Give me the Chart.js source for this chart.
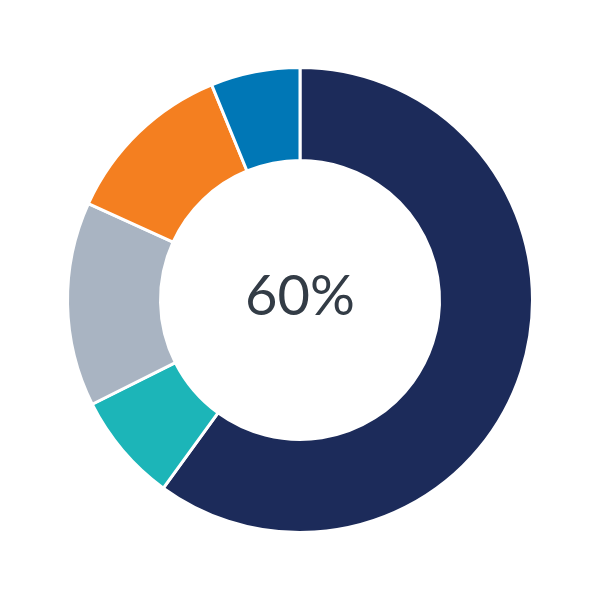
<!DOCTYPE html>
<html>
<head>
<meta charset="utf-8">
<script src="https://cdn.jsdelivr.net/npm/chart.js@4/dist/chart.umd.min.js"></script>
<style>
  html, body { margin: 0; padding: 0; background: #fff; }
  #wrap { width: 600px; height: 600px; position: relative; }
</style>
</head>
<body>
<div id="wrap"><canvas id="donut"></canvas></div>
<script>
// donut with a center label
const labels = ['Segment A', 'Segment B', 'Segment C', 'Segment D', 'Segment E']
const values = [60, 7.6, 14.2, 12, 6.2]
const colors = ['#1c2b5a', '#1cb5b8', '#a9b4c2', '#f47f20', '#0077b6']
const centerText = '60%'

const centerLabel = {
  id: 'centerLabel',
  afterDraw(chart) {
    const { ctx, chartArea: a } = chart
    ctx.save()
    ctx.font = '400 56px Lato, "Open Sans", sans-serif'
    ctx.fillStyle = '#333c46'
    ctx.textAlign = 'center'
    ctx.textBaseline = 'middle'
    ctx.fillText(centerText, (a.left + a.right) / 2, (a.top + a.bottom) / 2 - 3)
    ctx.restore()
  }
}

new Chart(document.getElementById('donut'), {
  type: 'doughnut',
  data: { labels, datasets: [{ data: values, backgroundColor: colors, borderColor: '#fff', borderWidth: 3 }] },
  options: {
    responsive: true,
    maintainAspectRatio: false,
    animation: false,
    cutout: '60%',
    layout: { padding: 66 },
    plugins: { legend: { display: false }, tooltip: { enabled: false } }
  },
  plugins: [centerLabel]
})
</script>
</body>
</html>
